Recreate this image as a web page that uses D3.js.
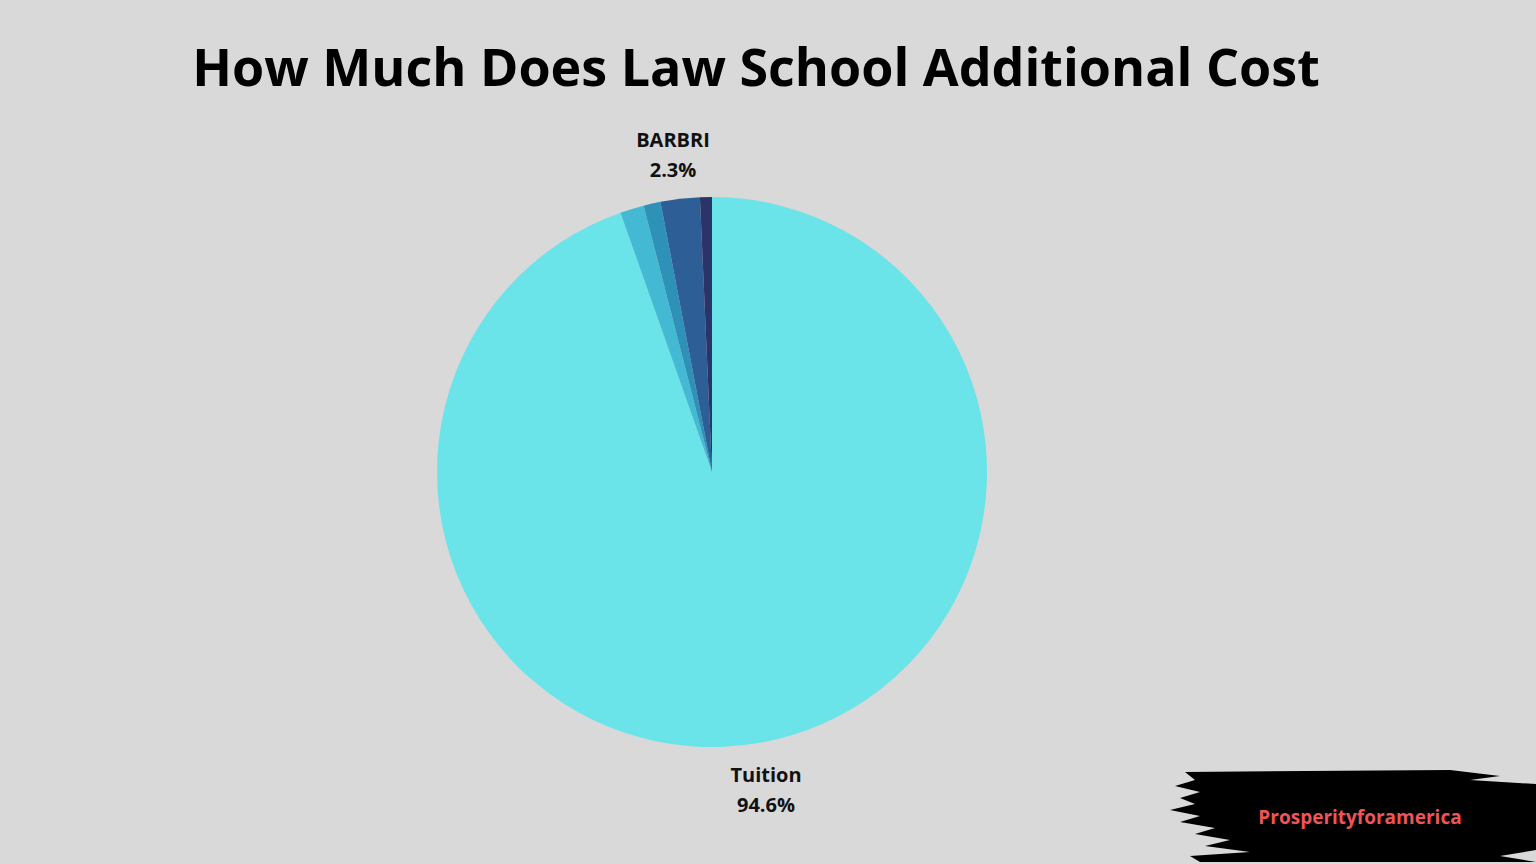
<!DOCTYPE html>
<html><head><meta charset="utf-8">
<script src="https://cdn.jsdelivr.net/npm/d3@7"></script>
<style>body{margin:0;background:#d9d9d9;}svg{display:block;font-family:"Open Sans",sans-serif;}</style>
</head><body>
<svg id="c" width="1536" height="864"></svg>
<script>
const categories = ["Tuition", "Other A", "Other B", "BARBRI", "Other C"];
const values = [94.6, 1.4, 1.0, 2.3, 0.7];
const colors = ["#6ae4e8", "#43b9d4", "#2e92b8", "#2e5e96", "#2c3368"];
const shownLabels = ["Tuition", "BARBRI"];

const svg = d3.select("#c");
svg.append("rect").attr("width",1536).attr("height",864).attr("fill","#d9d9d9");
svg.append("text").attr("x",756).attr("y",86).attr("text-anchor","middle")
  .attr("font-size",52).attr("font-weight",700).attr("fill","#000")
  .text("How Much Does Law School Additional Cost");

const cx=712, cy=472, r=275;
const pie = d3.pie().sort(null).value(d=>d.v);
const arcs = pie(categories.map((c,i)=>({c,v:values[i],col:colors[i]})));
const arc = d3.arc().innerRadius(0).outerRadius(r);
const g = svg.append("g").attr("transform",`translate(${cx},${cy})`);
g.selectAll("path").data(arcs).join("path").attr("d",arc).attr("fill",d=>d.data.col);

const labelPos = {Tuition:[766,782], BARBRI:[673,147]};
shownLabels.forEach(name=>{
  const i = categories.indexOf(name);
  const [x,y]=labelPos[name];
  const t = svg.append("text").attr("text-anchor","middle").attr("font-size",20).attr("font-weight",700).attr("fill","#111");
  t.append("tspan").attr("x",x).attr("y",y).text(name);
  t.append("tspan").attr("x",x).attr("y",y+30).text(values[i].toFixed(1)+"%");
});

// brush-stroke watermark
const pts = [[1185,772],[1450,770],[1500,776],[1470,780],[1536,784],[1536,850],[1500,856],[1536,862],[1200,862],[1190,856],[1250,852],[1205,846],[1230,840],[1195,834],[1215,828],[1180,822],[1200,816],[1170,810],[1195,804],[1180,798],[1200,792],[1175,786],[1195,780]];
svg.append("path").attr("d","M"+pts.join("L")+"Z").attr("fill","#000");
svg.append("text").attr("x",1360).attr("y",824).attr("text-anchor","middle")
  .attr("font-size",19).attr("font-weight",700).attr("fill","#f05454").text("Prosperityforamerica");
</script>
</body></html>
